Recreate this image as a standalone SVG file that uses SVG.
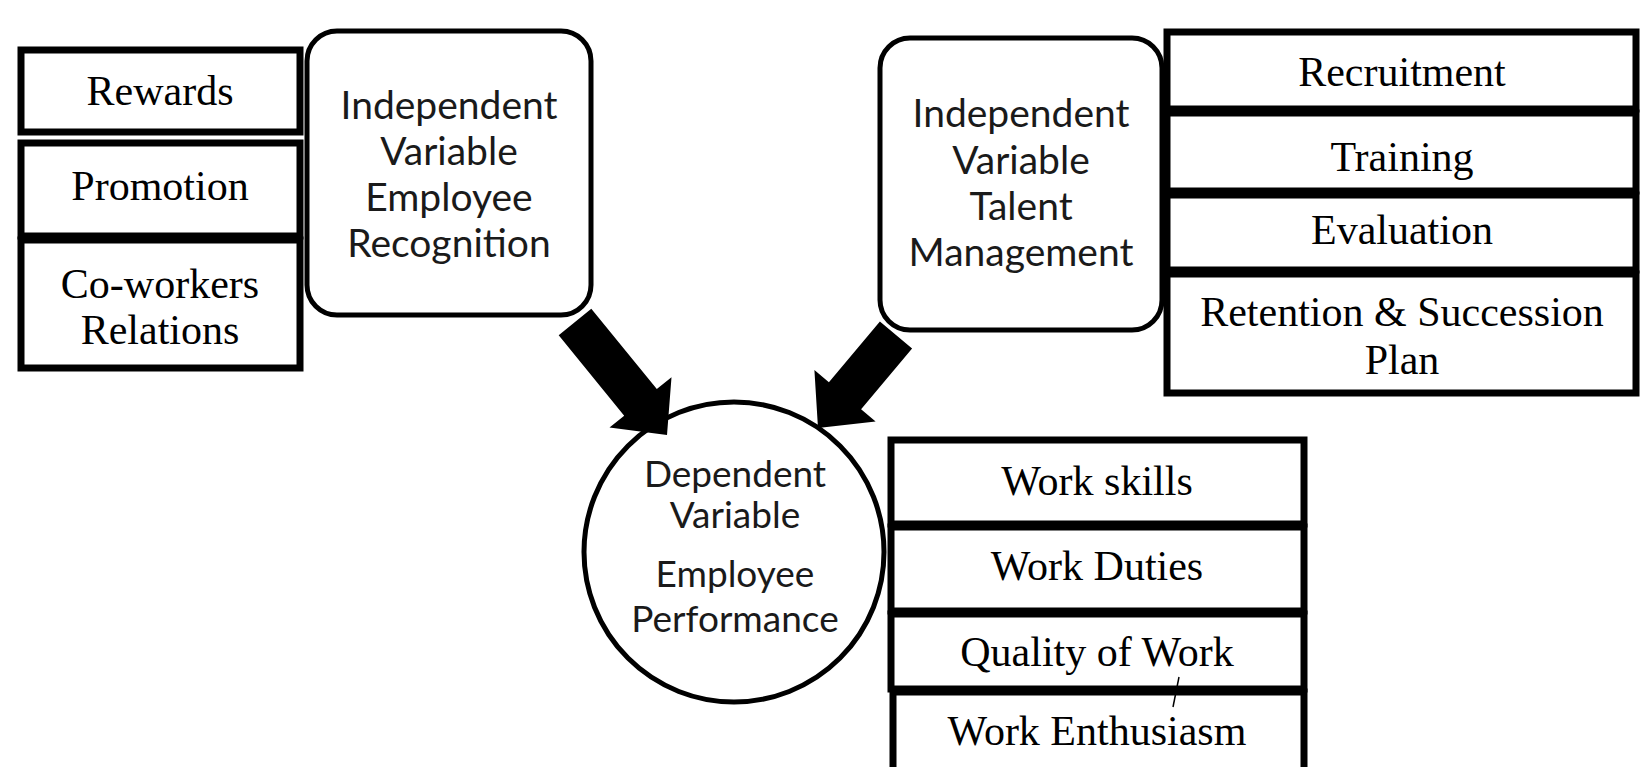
<svg xmlns="http://www.w3.org/2000/svg" width="1651" height="767" viewBox="0 0 1651 767">
<style>
.box{fill:#fff;stroke:#000;stroke-width:7}
.rbox{fill:#fff;stroke:#000;stroke-width:5}
.circ{fill:#fff;stroke:#000;stroke-width:5}
.t{font-family:"Liberation Serif","Times New Roman",serif;font-size:42px;fill:#000;text-anchor:middle}
.s{font-family:Lato,"Noto Sans",sans-serif;font-size:39px;fill:#1a1a1a;text-anchor:middle}
.s2{font-family:Lato,"Noto Sans",sans-serif;font-size:37px;fill:#1a1a1a;text-anchor:middle}
.arrow{fill:#000}
</style>
<rect width="1651" height="767" fill="#fff"/>

<g id="rewards"><rect class="box" x="21" y="50" width="279" height="82"/><text class="t" x="160" y="105">Rewards</text></g>
<g id="promotion"><rect class="box" x="21" y="143" width="279" height="93"/><text class="t" x="160" y="200">Promotion</text></g>
<g id="coworkers"><rect class="box" x="21" y="240" width="279" height="128"/><text class="t" x="160" y="298">Co-workers</text><text class="t" x="160" y="344">Relations</text></g>

<g id="recognition"><rect class="rbox" x="307" y="31" width="284" height="284" rx="30"/>
<text class="s" x="449" y="119">Independent</text><text class="s" x="449" y="165">Variable</text><text class="s" x="449" y="211">Employee</text><text class="s" x="449" y="257">Recognition</text></g>

<g id="talent"><rect class="rbox" x="880" y="38" width="282" height="292" rx="30"/>
<text class="s" x="1021" y="127">Independent</text><text class="s" x="1021" y="174">Variable</text><text class="s" x="1021" y="220">Talent</text><text class="s" x="1021" y="266">Management</text></g>

<g id="recruitment"><rect class="box" x="1167" y="32" width="469" height="77"/><text class="t" x="1402" y="86">Recruitment</text></g>
<g id="training"><rect class="box" x="1167" y="113" width="469" height="78"/><text class="t" x="1402" y="171">Training</text></g>
<g id="evaluation"><rect class="box" x="1167" y="195" width="469" height="75"/><text class="t" x="1402" y="244">Evaluation</text></g>
<g id="retention"><rect class="box" x="1167" y="274" width="469" height="119"/><text class="t" x="1402" y="326">Retention &amp; Succession</text><text class="t" x="1402" y="374">Plan</text></g>

<g id="performance"><circle class="circ" cx="734" cy="552" r="150"/>
<text class="s2" x="735" y="487">Dependent</text><text class="s2" x="735" y="528">Variable</text><text class="s2" x="735" y="587">Employee</text><text class="s2" x="735" y="632">Performance</text></g>

<g id="workskills"><rect class="box" x="891" y="440" width="413" height="84"/><text class="t" x="1097" y="495">Work skills</text></g>
<g id="workduties"><rect class="box" x="891" y="527" width="413" height="84"/><text class="t" x="1097" y="580">Work Duties</text></g>
<g id="quality"><rect class="box" x="891" y="614" width="413" height="75"/><text class="t" x="1097" y="666">Quality of Work</text></g>
<g id="enthusiasm"><rect class="box" x="893" y="692" width="411" height="80"/><text class="t" x="1097" y="745">Work Enthusiasm</text></g>
<line x1="1179" y1="677" x2="1173" y2="707" stroke="#000" stroke-width="1.5"/>

<g id="connectors">
<polygon class="arrow" points="591.3,308.7 656.8,389.1 671.5,377.2 667,435 609.5,427.6 624.2,415.7 558.7,335.3"/>
<polygon class="arrow" points="879.9,321.5 912.1,348.5 861.1,409.3 875.6,421.5 818,428 814.4,370.1 828.9,382.3"/>
</g>
</svg>
